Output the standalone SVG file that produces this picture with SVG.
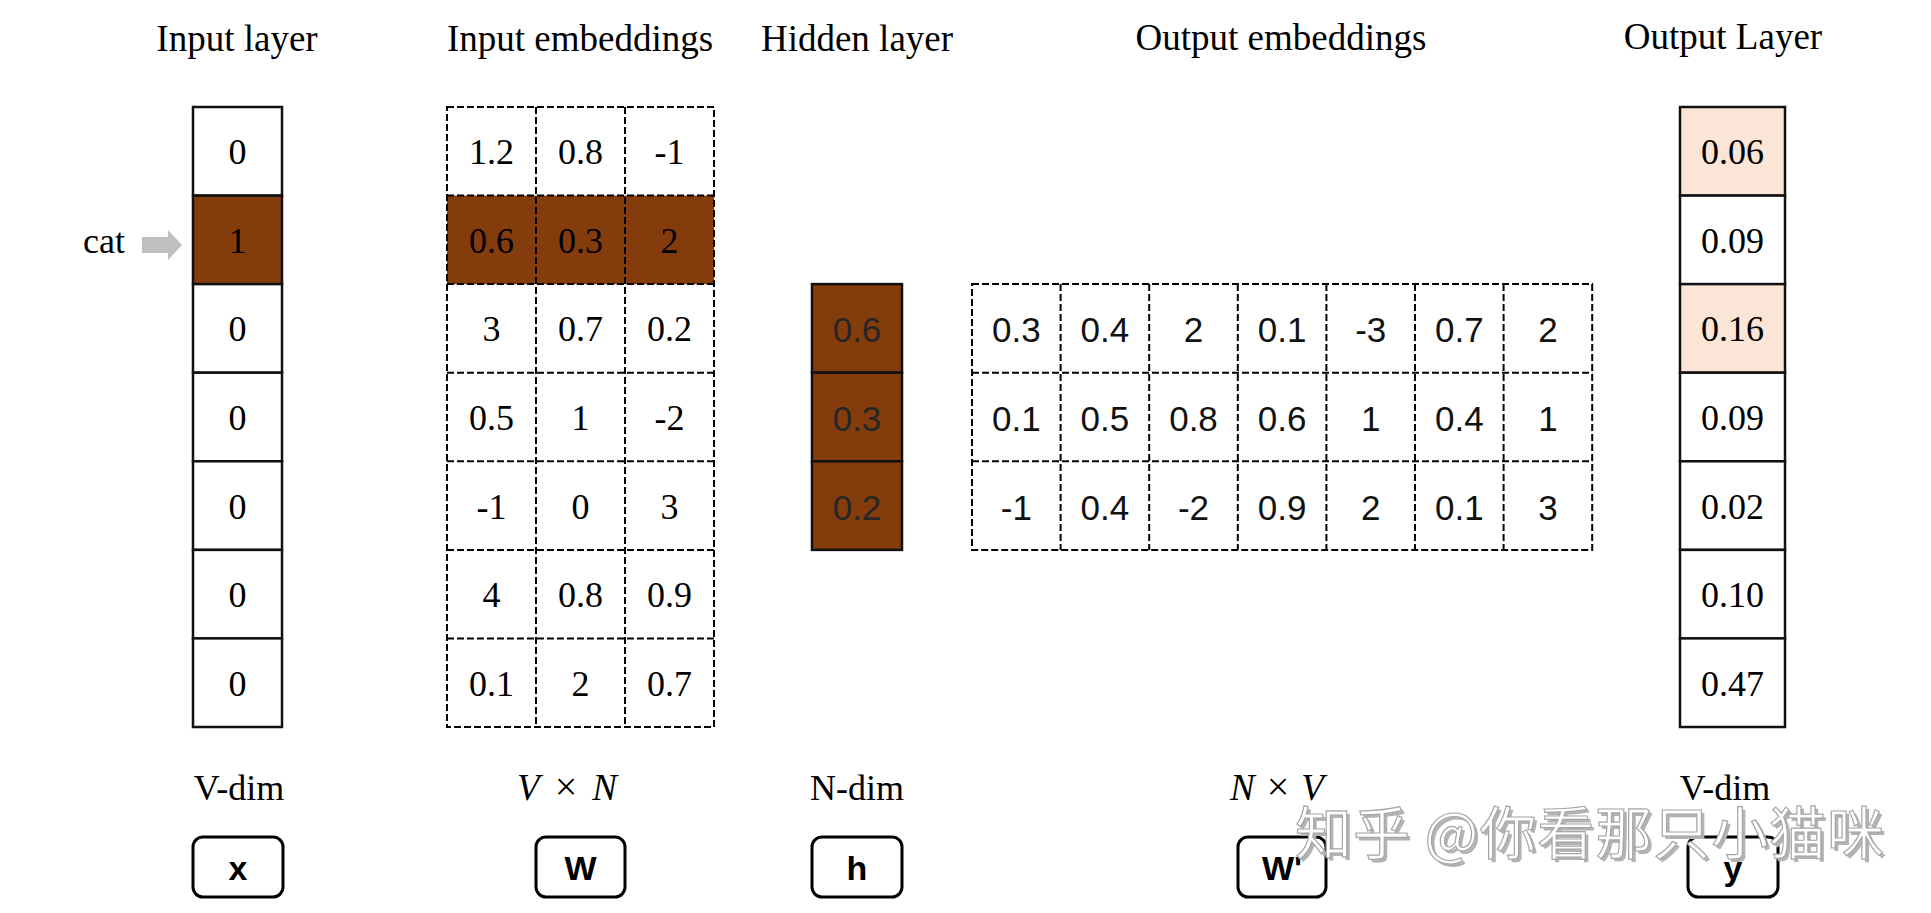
<svg xmlns="http://www.w3.org/2000/svg" width="1931" height="913" viewBox="0 0 1931 913">
<style>
.bg{fill:#ffffff}
.title{font-family:"Liberation Serif","Times New Roman",serif;font-size:37px;fill:#000;text-anchor:middle}
.serif{font-family:"Liberation Serif","Times New Roman",serif;font-size:36px;fill:#000;text-anchor:middle}
.sans{font-family:"Liberation Sans",Arial,sans-serif;font-size:35px;fill:#111;text-anchor:middle}
.sansd{font-family:"Liberation Sans",Arial,sans-serif;font-size:35px;fill:#262626;text-anchor:middle}
.solid{fill:#fff;stroke:#111;stroke-width:2.5}
.solidb{fill:#843C0C;stroke:#111;stroke-width:2.5}
.solidp{fill:#FBE5D6;stroke:#111;stroke-width:2.5}
.dash{fill:none;stroke:#000;stroke-width:2;stroke-dasharray:7 3}
.brown{fill:#843C0C}
.tag{fill:#fff;stroke:#000;stroke-width:3}
.tagt{font-family:"Liberation Sans",Arial,sans-serif;font-size:34px;font-weight:bold;fill:#000;text-anchor:middle}
.ital{font-family:"Liberation Serif","Times New Roman",serif;font-size:37px;fill:#000;text-anchor:middle}
.wm{font-family:"Noto Sans CJK SC","Noto Sans",sans-serif;font-size:57px}
</style>
<rect class="bg" x="0" y="0" width="1931" height="913"/>

<!-- Input layer -->
<g id="input-layer">
  <text class="title" x="237" y="51">Input layer</text>
  <rect class="solid" x="193" y="107" width="89" height="88.6"/>
  <rect class="solidb" x="193" y="195.6" width="89" height="88.6"/>
  <rect class="solid" x="193" y="284.1" width="89" height="88.6"/>
  <rect class="solid" x="193" y="372.7" width="89" height="88.6"/>
  <rect class="solid" x="193" y="461.3" width="89" height="88.6"/>
  <rect class="solid" x="193" y="549.9" width="89" height="88.6"/>
  <rect class="solid" x="193" y="638.4" width="89" height="88.6"/>
  <text class="serif" x="237.5" y="164">0</text>
  <text class="serif" x="237.5" y="253">1</text>
  <text class="serif" x="237.5" y="341">0</text>
  <text class="serif" x="237.5" y="430">0</text>
  <text class="serif" x="237.5" y="519">0</text>
  <text class="serif" x="237.5" y="607">0</text>
  <text class="serif" x="237.5" y="696">0</text>
  <text class="serif" x="239" y="800">V-dim</text>
  <rect class="tag" x="193" y="837" width="90" height="60" rx="10"/>
  <text class="tagt" x="238" y="880">x</text>
</g>

<g id="cat-label">
  <text class="serif" x="104" y="253">cat</text>
</g>

<!-- Input embeddings -->
<g id="input-embeddings">
  <text class="title" x="580" y="51">Input embeddings</text>
  <rect class="brown" x="447" y="195.6" width="267" height="88.6"/>
  <rect class="dash" x="447" y="107" width="267" height="620"/>
  <path class="dash" d="M536 107V727M625 107V727M447 195.6H714M447 284.1H714M447 372.7H714M447 461.3H714M447 549.9H714M447 638.4H714"/>
  <text class="serif" x="491.5" y="164">1.2</text>
  <text class="serif" x="580.5" y="164">0.8</text>
  <text class="serif" x="669.5" y="164">-1</text>
  <text class="serif" x="491.5" y="253">0.6</text>
  <text class="serif" x="580.5" y="253">0.3</text>
  <text class="serif" x="669.5" y="253">2</text>
  <text class="serif" x="491.5" y="341">3</text>
  <text class="serif" x="580.5" y="341">0.7</text>
  <text class="serif" x="669.5" y="341">0.2</text>
  <text class="serif" x="491.5" y="430">0.5</text>
  <text class="serif" x="580.5" y="430">1</text>
  <text class="serif" x="669.5" y="430">-2</text>
  <text class="serif" x="491.5" y="519">-1</text>
  <text class="serif" x="580.5" y="519">0</text>
  <text class="serif" x="669.5" y="519">3</text>
  <text class="serif" x="491.5" y="607">4</text>
  <text class="serif" x="580.5" y="607">0.8</text>
  <text class="serif" x="669.5" y="607">0.9</text>
  <text class="serif" x="491.5" y="696">0.1</text>
  <text class="serif" x="580.5" y="696">2</text>
  <text class="serif" x="669.5" y="696">0.7</text>
  <text class="ital" x="567" y="800"><tspan font-style="italic">V</tspan><tspan dx="15" font-size="40">×</tspan><tspan dx="15" font-style="italic">N</tspan></text>
  <rect class="tag" x="536" y="837" width="89" height="60" rx="10"/>
  <text class="tagt" x="580.5" y="880">W</text>
</g>

<!-- Hidden layer -->
<g id="hidden-layer">
  <text class="title" x="857" y="51">Hidden layer</text>
  <rect class="solidb" x="812" y="284.1" width="90" height="88.6"/>
  <rect class="solidb" x="812" y="372.7" width="90" height="88.6"/>
  <rect class="solidb" x="812" y="461.3" width="90" height="88.6"/>
  <text class="sansd" x="857" y="342">0.6</text>
  <text class="sansd" x="857" y="431">0.3</text>
  <text class="sansd" x="857" y="520">0.2</text>
  <text class="serif" x="857" y="800">N-dim</text>
  <rect class="tag" x="812" y="837" width="90" height="60" rx="10"/>
  <text class="tagt" x="857" y="880">h</text>
</g>

<!-- Output embeddings -->
<g id="output-embeddings">
  <text class="title" x="1281" y="50">Output embeddings</text>
  <rect class="dash" x="972" y="284.1" width="620.2" height="265.8"/>
  <path class="dash" d="M1060.6 284.1V549.9M1149.2 284.1V549.9M1237.8 284.1V549.9M1326.4 284.1V549.9M1415 284.1V549.9M1503.6 284.1V549.9M972 372.7H1592.2M972 461.3H1592.2"/>
  <text class="sans" x="1016.3" y="342">0.3</text>
  <text class="sans" x="1104.9" y="342">0.4</text>
  <text class="sans" x="1193.5" y="342">2</text>
  <text class="sans" x="1282.1" y="342">0.1</text>
  <text class="sans" x="1370.7" y="342">-3</text>
  <text class="sans" x="1459.3" y="342">0.7</text>
  <text class="sans" x="1547.9" y="342">2</text>
  <text class="sans" x="1016.3" y="431">0.1</text>
  <text class="sans" x="1104.9" y="431">0.5</text>
  <text class="sans" x="1193.5" y="431">0.8</text>
  <text class="sans" x="1282.1" y="431">0.6</text>
  <text class="sans" x="1370.7" y="431">1</text>
  <text class="sans" x="1459.3" y="431">0.4</text>
  <text class="sans" x="1547.9" y="431">1</text>
  <text class="sans" x="1016.3" y="520">-1</text>
  <text class="sans" x="1104.9" y="520">0.4</text>
  <text class="sans" x="1193.5" y="520">-2</text>
  <text class="sans" x="1282.1" y="520">0.9</text>
  <text class="sans" x="1370.7" y="520">2</text>
  <text class="sans" x="1459.3" y="520">0.1</text>
  <text class="sans" x="1547.9" y="520">3</text>
  <text class="ital" x="1277" y="800"><tspan font-style="italic">N</tspan><tspan dx="12" font-size="40">×</tspan><tspan dx="12" font-style="italic">V</tspan></text>
  <rect class="tag" x="1238" y="837" width="88" height="60" rx="10"/>
  <text class="tagt" x="1282" y="880">W'</text>
</g>

<!-- Output layer -->
<g id="output-layer">
  <text class="title" x="1723" y="49">Output Layer</text>
  <rect class="solidp" x="1680" y="107" width="105" height="88.6"/>
  <rect class="solid" x="1680" y="195.6" width="105" height="88.6"/>
  <rect class="solidp" x="1680" y="284.1" width="105" height="88.6"/>
  <rect class="solid" x="1680" y="372.7" width="105" height="88.6"/>
  <rect class="solid" x="1680" y="461.3" width="105" height="88.6"/>
  <rect class="solid" x="1680" y="549.9" width="105" height="88.6"/>
  <rect class="solid" x="1680" y="638.4" width="105" height="88.6"/>
  <text class="serif" x="1732.5" y="164">0.06</text>
  <text class="serif" x="1732.5" y="253">0.09</text>
  <text class="serif" x="1732.5" y="341">0.16</text>
  <text class="serif" x="1732.5" y="430">0.09</text>
  <text class="serif" x="1732.5" y="519">0.02</text>
  <text class="serif" x="1732.5" y="607">0.10</text>
  <text class="serif" x="1732.5" y="696">0.47</text>
  <text class="serif" x="1725" y="800">V-dim</text>
  <rect class="tag" x="1688" y="837" width="90" height="60" rx="10"/>
  <text class="tagt" x="1733" y="880">y</text>
</g>

<!-- Connectors -->
<g id="connectors">
  <polygon points="142,237 168,237 168,230 182,245 168,260 168,253 142,253" fill="#BFBFBF"/>
</g>

<!-- Watermark -->
<g id="watermark">
  <text class="wm" x="1298" y="857" textLength="589" lengthAdjust="spacing" fill="#b3b3b3">知乎 @你看那只小猫咪</text>
  <text class="wm" x="1295" y="854" textLength="589" lengthAdjust="spacing" fill="#ffffff" stroke="#a6a6a6" stroke-width="1.2">知乎 @你看那只小猫咪</text>
</g>
</svg>
